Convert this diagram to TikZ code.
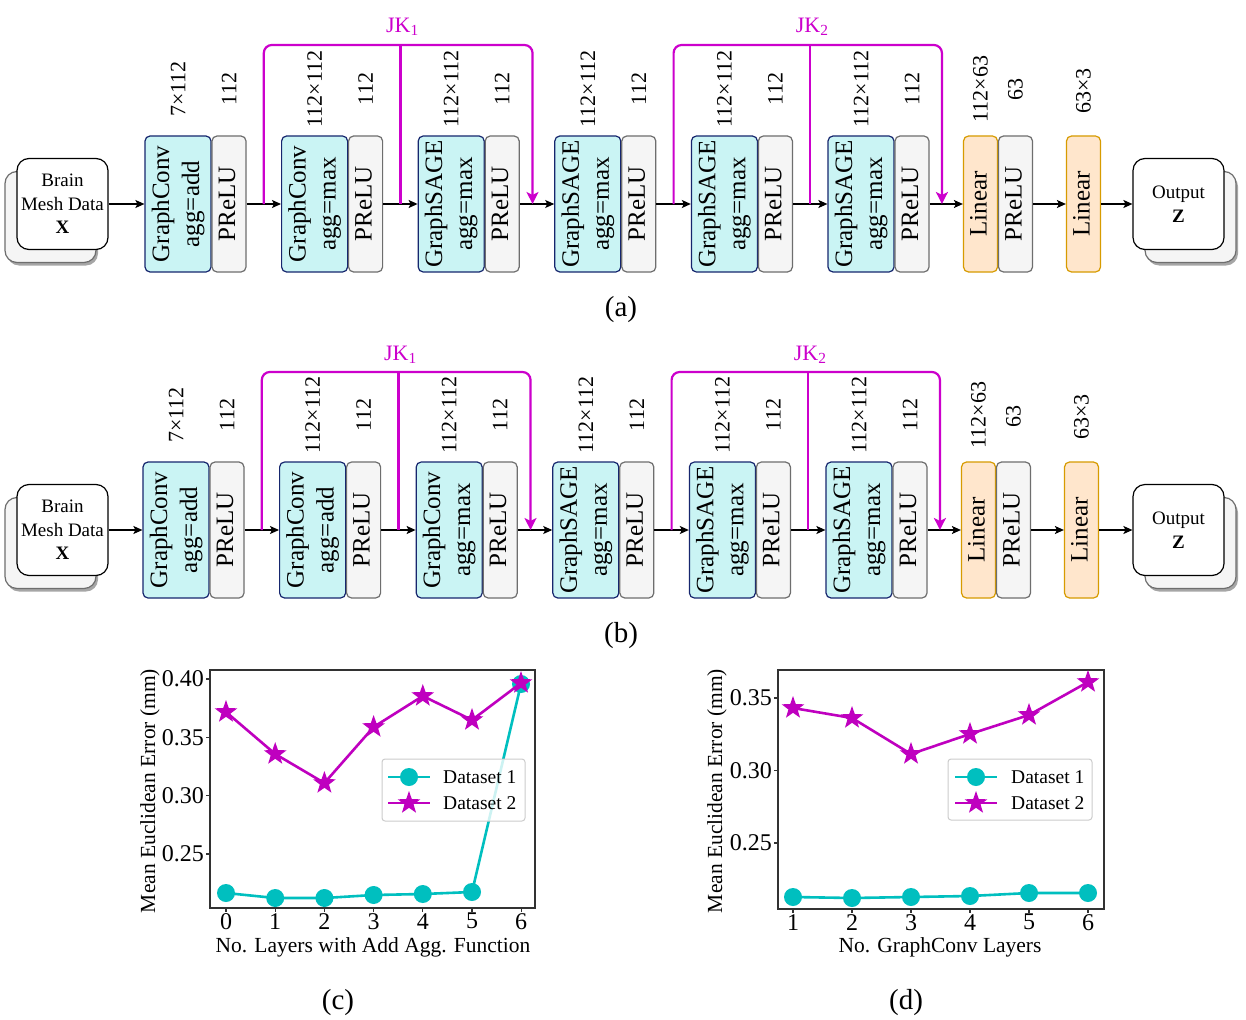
\documentclass[tikz,border=0pt]{standalone}
\usepackage{fontspec}
\usepackage{graphicx}
\setmainfont{Liberation Serif}
\usetikzlibrary{arrows.meta,shapes.geometric,calc,shadows}
\definecolor{convfill}{RGB}{202,244,244}
\definecolor{convdraw}{RGB}{22,38,110}
\definecolor{relufill}{RGB}{245,245,245}
\definecolor{reludraw}{RGB}{110,110,110}
\definecolor{linfill}{RGB}{255,230,204}
\definecolor{lindraw}{RGB}{215,155,0}
\definecolor{jkc}{RGB}{204,0,204}
\definecolor{dcyan}{RGB}{0,191,191}
\definecolor{dmag}{RGB}{191,0,191}
\definecolor{spinec}{RGB}{50,50,50}
\newcommand{\myrot}[1]{\rotatebox{90}{\begin{tabular}{@{}c@{}}#1\end{tabular}}}
\tikzset{
 blk/.style={rectangle, rounded corners=5pt, minimum height=136pt, inner sep=0pt, font=\fontsize{25}{30}\selectfont, line width=1.2pt},
 convbox/.style={blk, minimum width=66pt, fill=convfill, draw=convdraw},
 relubox/.style={blk, minimum width=34pt, fill=relufill, draw=reludraw},
 linbox/.style={blk, minimum width=34pt, fill=linfill, draw=lindraw},
 dimlbl/.style={rotate=90, font=\fontsize{22}{22}\selectfont, inner sep=0pt},
 flow/.style={-{Stealth[length=9pt,width=8pt,inset=2pt]}, line width=1.3pt},
 jk/.style={draw=jkc, line width=2.2pt, rounded corners=8pt},
 jkarrow/.style={jk, -{Stealth[length=12pt,width=12pt,inset=3pt]}},
 jklbl/.style={text=jkc, font=\fontsize{22}{22}\selectfont, inner sep=0pt},
 iobox/.style={rectangle, rounded corners=12pt, minimum width=91pt, minimum height=91pt, draw=black, fill=white, line width=1.2pt, align=center, font=\fontsize{19}{23.5}\selectfont, inner sep=0pt},
 ioback/.style={rectangle, rounded corners=12pt, minimum width=91pt, minimum height=91pt, draw=reludraw, fill=relufill, line width=1.2pt, drop shadow={shadow xshift=2pt, shadow yshift=-3pt, opacity=.35, fill=black}},
 caption/.style={font=\fontsize{29}{29}\selectfont, inner sep=0pt},
 spine/.style={draw=spinec, line width=1.2pt},
 tickl/.style={font=\fontsize{24}{24}\selectfont, inner sep=0pt},
 axlbl/.style={font=\fontsize{21.5}{21.5}\selectfont, inner sep=0pt},
 legtxt/.style={font=\fontsize{19.5}{19.5}\selectfont, inner sep=0pt, anchor=west},
 d1line/.style={draw=dcyan, line width=2.6pt, line join=round},
 d2line/.style={draw=dmag, line width=2.6pt, line join=round},
 circmark/.style={circle, fill=dcyan, minimum size=18pt, inner sep=0pt},
 starmark/.style={star, star points=5, star point ratio=2.5, fill=dmag, minimum size=24pt, inner sep=0pt},
 legbox/.style={draw=black!20, fill=white, fill opacity=0.8, rounded corners=3pt, line width=1pt},
}
\begin{document}
\begin{tikzpicture}[x=1pt,y=-1pt]
\fill[white] (0,0) rectangle (1246,1019);
\useasboundingbox (0,0) rectangle (1246,1019);

% ================= Row (a) =================
\node[ioback] (ainb) at (50.5,217) {};
\node[iobox] (ain) at (62.5,204) {Brain\\Mesh Data\\\textbf{X}};
\foreach \i/\nm/\ag/\dm in {1/GraphConv/add/7×112, 2/GraphConv/max/112×112, 3/GraphSAGE/max/112×112, 4/GraphSAGE/max/112×112, 5/GraphSAGE/max/112×112, 6/GraphSAGE/max/112×112}{
  \pgfmathsetmacro\cx{178+136.6*(\i-1)}
  \node[convbox] (ac\i) at (\cx,204) {\myrot{\nm\\agg=\ag}};
  \node[relubox] (ap\i) at (\cx+51,204) {\myrot{PReLU}};
  \node[dimlbl] (acd\i) at (\cx,89) {\dm};
  \node[dimlbl] (apd\i) at (\cx+51,89) {112};
}
\node[linbox] (al1) at (980.5,204) {\myrot{Linear}};
\node[relubox] (ap7) at (1015.5,204) {\myrot{PReLU}};
\node[linbox] (al2) at (1083.5,204) {\myrot{Linear}};
\node[dimlbl] (ald1) at (980.5,89) {112×63};
\node[dimlbl] (apd7) at (1015.5,90) {63};
\node[dimlbl] (ald2) at (1083.5,91) {63×3};
\node[ioback] (aoutb) at (1190.5,217) {};
\node[iobox] (aout) at (1178.5,204) {Output\\\textbf{Z}};

\draw[flow] (ain.east) -- (ac1.west);
\foreach \i [evaluate=\i as \j using int(\i+1)] in {1,...,5} \draw[flow] (ap\i.east) -- (ac\j.west);
\draw[flow] (ap6.east) -- (al1.west);
\draw[flow] (ap7.east) -- (al2.west);
\draw[flow] (al2.east) -- (aout.west);

\coordinate (aj1s) at ($(ap1.east)!0.5!(ac2.west)$);
\coordinate (aj1m) at ($(ap2.east)!0.5!(ac3.west)$);
\coordinate (aj1e) at ($(ap3.east)!0.37!(ac4.west)$);
\coordinate (aj2s) at ($(ap4.east)!0.5!(ac5.west)$);
\coordinate (aj2m) at ($(ap5.east)!0.5!(ac6.west)$);
\coordinate (aj2e) at ($(ap6.east)!0.37!(al1.west)$);
\draw[jkarrow] (aj1s) -- (aj1s |- 0,45) -- (aj1e |- 0,45) -- (aj1e);
\draw[jk] (aj1m |- 0,45) -- (aj1m);
\draw[jkarrow] (aj2s) -- (aj2s |- 0,45) -- (aj2e |- 0,45) -- (aj2e);
\draw[jk] (aj2m |- 0,45) -- (aj2m);
\node[jklbl] (ajk1) at ($(aj1m |- 0,27)+(2,0)$) {JK\textsubscript{1}};
\node[jklbl] (ajk2) at ($(aj2m |- 0,27)+(2,0)$) {JK\textsubscript{2}};
\node[caption] (capa) at (621,310) {(a)};

% ================= Row (b) =================
\node[ioback] (binb) at (50.5,543) {};
\node[iobox] (bin) at (62.5,530) {Brain\\Mesh Data\\\textbf{X}};
\foreach \i/\nm/\ag/\dm in {1/GraphConv/add/7×112, 2/GraphConv/add/112×112, 3/GraphConv/max/112×112, 4/GraphSAGE/max/112×112, 5/GraphSAGE/max/112×112, 6/GraphSAGE/max/112×112}{
  \pgfmathsetmacro\cx{176+136.6*(\i-1)}
  \node[convbox] (bc\i) at (\cx,530) {\myrot{\nm\\agg=\ag}};
  \node[relubox] (bp\i) at (\cx+51,530) {\myrot{PReLU}};
  \node[dimlbl] (bcd\i) at (\cx,415) {\dm};
  \node[dimlbl] (bpd\i) at (\cx+51,415) {112};
}
\node[linbox] (bl1) at (978.5,530) {\myrot{Linear}};
\node[relubox] (bp7) at (1013.5,530) {\myrot{PReLU}};
\node[linbox] (bl2) at (1081.5,530) {\myrot{Linear}};
\node[dimlbl] (bld1) at (978.5,415) {112×63};
\node[dimlbl] (bpd7) at (1013.5,416) {63};
\node[dimlbl] (bld2) at (1081.5,417) {63×3};
\node[ioback] (boutb) at (1190.5,543) {};
\node[iobox] (bout) at (1178.5,530) {Output\\\textbf{Z}};

\draw[flow] (bin.east) -- (bc1.west);
\foreach \i [evaluate=\i as \j using int(\i+1)] in {1,...,5} \draw[flow] (bp\i.east) -- (bc\j.west);
\draw[flow] (bp6.east) -- (bl1.west);
\draw[flow] (bp7.east) -- (bl2.west);
\draw[flow] (bl2.east) -- (bout.west);

\coordinate (bj1s) at ($(bp1.east)!0.5!(bc2.west)$);
\coordinate (bj1m) at ($(bp2.east)!0.5!(bc3.west)$);
\coordinate (bj1e) at ($(bp3.east)!0.37!(bc4.west)$);
\coordinate (bj2s) at ($(bp4.east)!0.5!(bc5.west)$);
\coordinate (bj2m) at ($(bp5.east)!0.5!(bc6.west)$);
\coordinate (bj2e) at ($(bp6.east)!0.37!(bl1.west)$);
\draw[jkarrow] (bj1s) -- (bj1s |- 0,372) -- (bj1e |- 0,372) -- (bj1e);
\draw[jk] (bj1m |- 0,372) -- (bj1m);
\draw[jkarrow] (bj2s) -- (bj2s |- 0,372) -- (bj2e |- 0,372) -- (bj2e);
\draw[jk] (bj2m |- 0,372) -- (bj2m);
\node[jklbl] (bjk1) at ($(bj1m |- 0,355)+(2,0)$) {JK\textsubscript{1}};
\node[jklbl] (bjk2) at ($(bj2m |- 0,355)+(2,0)$) {JK\textsubscript{2}};
\node[caption] (capb) at (621,636) {(b)};

% ================= Plot (c) =================
\draw[spine] (210,670) rectangle (535,908);
\foreach \i in {0,...,6}{
  \draw[spine] (226+49.2*\i,908) -- ++(0,4);
  \node[tickl, anchor=north] at (226+49.2*\i,913) {\i};
}
\foreach \yy/\l in {679/0.40, 737.3/0.35, 795.6/0.30, 853.9/0.25}{
  \draw[spine] (210,\yy) -- ++(-4,0);
  \node[tickl, anchor=east] at (204,\yy) {\l};
}
\draw[d1line] (226,893) -- (275.2,898) -- (324.4,898) -- (373.6,895) -- (422.8,894) -- (472,892) -- (521,684);
\foreach \x/\y in {226/893, 275.2/898, 324.4/898, 373.6/895, 422.8/894, 472/892, 521/684} \node[circmark] at (\x,\y) {};
\draw[d2line] (226,712) -- (275.2,754) -- (324.4,783) -- (373.6,727) -- (422.8,696) -- (472,720) -- (521,683);
\foreach \x/\y in {226/712, 275.2/754, 324.4/783, 373.6/727, 422.8/696, 472/720, 521/683} \node[starmark] at (\x,\y) {};
\node[axlbl, rotate=90] (cyl) at (150,791) {Mean Euclidean Error (mm)};
\node[axlbl] (cxl) at (373,947) {No. Layers with Add Agg. Function};
\draw[legbox] (382,759) rectangle (525,821);
\draw[d1line] (388,777) -- (430,777);
\node[circmark] at (409,777) {};
\node[legtxt] at (443,777) {Dataset 1};
\draw[d2line] (388,803) -- (430,803);
\node[starmark] at (409,803) {};
\node[legtxt] at (443,803) {Dataset 2};
\node[caption] (capc) at (338,1003) {(c)};

% ================= Plot (d) =================
\draw[spine] (778,670) rectangle (1104,909);
\foreach \i in {1,...,6}{
  \draw[spine] (793+59*\i-59,909) -- ++(0,4);
  \node[tickl, anchor=north] at (793+59*\i-59,914) {\i};
}
\foreach \yy/\l in {698/0.35, 770.5/0.30, 843/0.25}{
  \draw[spine] (778,\yy) -- ++(-4,0);
  \node[tickl, anchor=east] at (772,\yy) {\l};
}
\draw[d1line] (793,897) -- (852,898) -- (911,897) -- (970,896) -- (1029,893) -- (1088,893);
\foreach \x/\y in {793/897, 852/898, 911/897, 970/896, 1029/893, 1088/893} \node[circmark] at (\x,\y) {};
\draw[d2line] (793,708) -- (852,718) -- (911,754) -- (970,734) -- (1029,715) -- (1088,682);
\foreach \x/\y in {793/708, 852/718, 911/754, 970/734, 1029/715, 1088/682} \node[starmark] at (\x,\y) {};
\node[axlbl, rotate=90] (dyl) at (717,791) {Mean Euclidean Error (mm)};
\node[axlbl] (dxl) at (940,947) {No. GraphConv Layers};
\draw[legbox] (948,759) rectangle (1092,820);
\draw[d1line] (955,777) -- (997,777);
\node[circmark] at (976,777) {};
\node[legtxt] at (1011,777) {Dataset 1};
\draw[d2line] (955,803) -- (997,803);
\node[starmark] at (976,803) {};
\node[legtxt] at (1011,803) {Dataset 2};
\node[caption] (capd) at (906,1003) {(d)};
\end{tikzpicture}
\end{document}
